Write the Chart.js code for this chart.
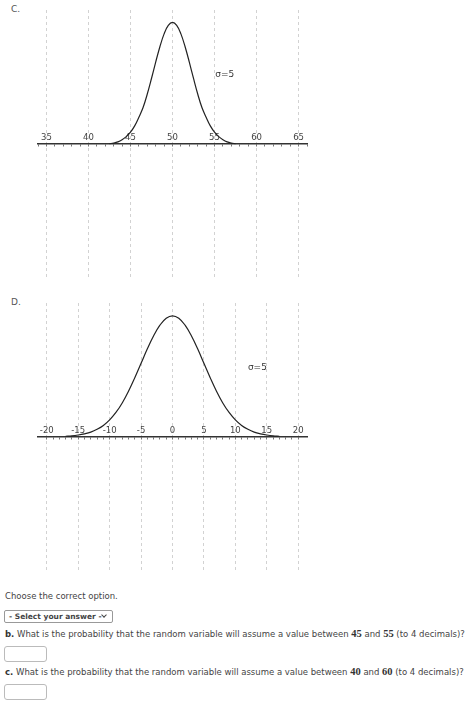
<!DOCTYPE html>
<html>
<head>
<meta charset="utf-8">
<script src="https://cdn.jsdelivr.net/npm/chart.js@4"></script>
<style>
  body { margin: 0; width: 474px; height: 705px; position: relative; background: #fff; font-family: "DejaVu Sans", Verdana, sans-serif; color: #444; overflow: hidden; }
  .chart { position: absolute; left: 0; width: 320px; height: 290px; }
  .tag { position: absolute; left: 11px; font-size: 9px; color: #555; }
  .txt { position: absolute; left: 5px; font-size: 8.5px; white-space: nowrap; line-height: 11px; }
  .txt b { color: #333; }
  .num { font-family: "Liberation Serif", serif; font-weight: bold; font-size: 10.5px; color: #333; }
  .sel { position: absolute; left: 4px; top: 610px; width: 109px; height: 13px; border: 1px solid #999; border-radius: 2px; font-size: 7.5px; font-weight: bold; color: #444; line-height: 11px; box-sizing: border-box; padding-left: 4px; }
  .chev { position: absolute; right: 6px; top: 2px; width: 3px; height: 3px; border-right: 1.5px solid #444; border-bottom: 1.5px solid #444; transform: rotate(45deg); }
  .box { position: absolute; left: 4px; width: 43px; height: 16px; border: 1px solid #bbb; border-radius: 3px; box-sizing: border-box; }
</style>
</head>
<body>
<div class="tag" style="top:4px">C.</div>
<div class="chart" style="top:0"><canvas id="chartC"></canvas></div>
<div class="tag" style="top:297px">D.</div>
<div class="chart" style="top:290px"><canvas id="chartD"></canvas></div>

<div class="txt" style="top:591px">Choose the correct option.</div>
<div class="sel">- Select your answer -<span class="chev"></span></div>
<div class="txt" style="top:628px"><b>b.</b> What is the probability that the random variable will assume a value between <span class="num">45</span> and <span class="num">55</span> (to 4 decimals)?</div>
<div class="box" style="top:646px"></div>
<div class="txt" style="top:666px"><b>c.</b> What is the probability that the random variable will assume a value between <span class="num">40</span> and <span class="num">60</span> (to 4 decimals)?</div>
<div class="box" style="top:684px"></div>

<script>
// Option C curve (height as fraction of half plot height)
const cX = [42.5, 43, 43.5, 44, 44.5, 45, 45.5, 46, 46.5, 47, 47.5, 48, 48.5, 49, 49.5, 50,
            50.5, 51, 51.5, 52, 52.5, 53, 53.5, 54, 54.5, 55, 55.5, 56, 56.5, 57, 57.5];
const cY = [0.002, 0.007, 0.016, 0.032, 0.055, 0.088, 0.135, 0.2, 0.272, 0.373, 0.489, 0.611, 0.726, 0.822, 0.885, 0.907,
            0.885, 0.822, 0.726, 0.611, 0.489, 0.373, 0.272, 0.2, 0.135, 0.088, 0.055, 0.032, 0.016, 0.007, 0.002];

// Option D curve
const dX = [-17, -16, -15, -14, -13, -12, -11, -10, -9, -8, -7, -6, -5, -4, -3, -2, -1, 0,
            1, 2, 3, 4, 5, 6, 7, 8, 9, 10, 11, 12, 13, 14, 15, 16, 17];
const dY = [0.002, 0.005, 0.011, 0.02, 0.033, 0.054, 0.083, 0.125, 0.18, 0.251, 0.339, 0.44, 0.548, 0.657, 0.755, 0.834, 0.886, 0.904,
            0.886, 0.834, 0.755, 0.657, 0.548, 0.44, 0.339, 0.251, 0.18, 0.125, 0.083, 0.054, 0.033, 0.02, 0.011, 0.005, 0.002];

// Axis ranges
const cRange = [34, 66];
const dRange = [-21.4, 21.4];

const sigmaText = 'σ=5';

// draws the sigma note at a data position
const sigmaLabel = {
    id: 'sigmaLabel',
    afterDatasetsDraw(chart, args, opts) {
        const { ctx, scales } = chart;
        ctx.save();
        ctx.font = '9px "DejaVu Sans"';
        ctx.fillStyle = '#333';
        ctx.textBaseline = 'middle';
        ctx.fillText(opts.text, scales.x.getPixelForValue(opts.x), scales.y.getPixelForValue(opts.y));
        ctx.restore();
    }
};

function makeChart(id, xs, ys, range, pad, label) {
    const ctx = document.getElementById(id).getContext('2d');
    return new Chart(ctx, {
        type: 'scatter',
        data: {
            datasets: [{
                data: xs.map((x, i) => ({ x: x, y: ys[i] })),
                showLine: true,
                borderColor: '#222',
                borderWidth: 1.2,
                pointRadius: 0,
                tension: 0.4
            }]
        },
        options: {
            responsive: true,
            maintainAspectRatio: false,
            animation: false,
            layout: { padding: pad },
            plugins: {
                legend: { display: false },
                tooltip: { enabled: false },
                sigmaLabel: label
            },
            scales: {
                x: {
                    type: 'linear',
                    min: range[0],
                    max: range[1],
                    position: { y: 0 },
                    grid: {
                        color: c => (c.tick && c.tick.value % 5 === 0) ? '#d2d2d2' : 'rgba(0,0,0,0)',
                        lineWidth: 1,
                        tickColor: c => (c.tick && Number.isInteger(c.tick.value)) ? '#777' : 'rgba(0,0,0,0)',
                        tickLength: 2,
                        tickWidth: 1
                    },
                    border: { color: '#333', width: 1.5, dash: [3, 3] },
                    ticks: {
                        stepSize: 1,
                        autoSkip: false,
                        maxRotation: 0,
                        padding: -13,
                        color: '#444',
                        font: { family: 'DejaVu Sans', size: 8.5 },
                        callback: v => (v % 5 === 0) ? String(v) : ''
                    }
                },
                y: { display: false, min: -1, max: 1 }
            }
        },
        plugins: [sigmaLabel]
    });
}

makeChart('chartC', cX, cY, cRange, { left: 38, right: 13, top: 10, bottom: 12 },
    { text: sigmaText, x: 55.1, y: 0.52 });
makeChart('chartD', dX, dY, dRange, { left: 38, right: 13, top: 13, bottom: 10 },
    { text: sigmaText, x: 12, y: 0.515 });
</script>
</body>
</html>
